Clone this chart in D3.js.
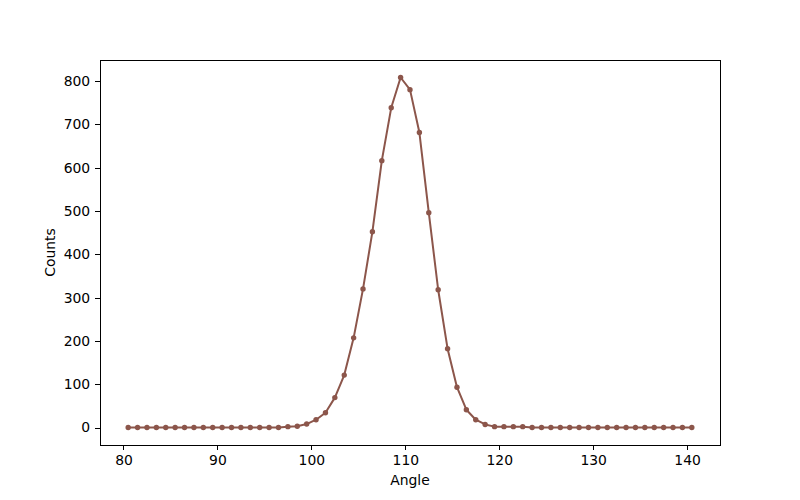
<!DOCTYPE html>
<html>
<head>
<meta charset="utf-8">
<script src="https://d3js.org/d3.v7.min.js"></script>
<style>
  body { margin: 0; background: #fff; }
  text { font-family: "DejaVu Sans", sans-serif; }
</style>
</head>
<body>
<div id="chart"></div>
<script>
// angle bins 80.5 ... 140.5
var angles = [80.5, 81.5, 82.5, 83.5, 84.5, 85.5, 86.5, 87.5, 88.5, 89.5,
              90.5, 91.5, 92.5, 93.5, 94.5, 95.5, 96.5, 97.5, 98.5, 99.5,
              100.5, 101.5, 102.5, 103.5, 104.5, 105.5, 106.5, 107.5, 108.5, 109.5,
              110.5, 111.5, 112.5, 113.5, 114.5, 115.5, 116.5, 117.5, 118.5, 119.5,
              120.5, 121.5, 122.5, 123.5, 124.5, 125.5, 126.5, 127.5, 128.5, 129.5,
              130.5, 131.5, 132.5, 133.5, 134.5, 135.5, 136.5, 137.5, 138.5, 139.5,
              140.5];
var counts = [0, 0, 0, 0, 0, 0, 0, 0, 0, 0,
              0, 0, 0, 0, 0, 0, 0, 2, 3, 8,
              18, 34, 69, 121, 207, 320, 452, 616, 738, 808,
              780, 681, 496, 318, 182, 93, 41, 18, 7, 2,
              2, 2, 2, 0, 0, 0, 0, 0, 0, 0,
              0, 0, 0, 0, 0, 0, 0, 0, 0, 0,
              0];
var xTicks = [80, 90, 100, 110, 120, 130, 140];
var yTicks = [0, 100, 200, 300, 400, 500, 600, 700, 800];

var data = angles.map(function(a, i) { return {angle: a, count: counts[i]}; });

var margin = {top: 60, right: 80, bottom: 55, left: 100},
    width = 800 - margin.left - margin.right,
    height = 500 - margin.top - margin.bottom;

var svg = d3.select("#chart")
    .append("svg")
    .attr("width", 800)
    .attr("height", 500)
    .append("g")
    .attr("transform", "translate(" + margin.left + "," + margin.top + ")");

// matplotlib style 5% margins
var xr = d3.extent(angles), xpad = (xr[1] - xr[0]) * 0.05;
var yr = d3.extent(counts), ypad = (yr[1] - yr[0]) * 0.05;

var x = d3.scaleLinear()
    .domain([xr[0] - xpad, xr[1] + xpad])
    .range([0, width]);
var y = d3.scaleLinear()
    .domain([yr[0] - ypad, yr[1] + ypad])
    .range([height, 0]);

var xAxis = svg.append("g")
    .attr("transform", "translate(0," + height + ")")
    .call(d3.axisBottom(x).tickValues(xTicks).tickSize(4.9).tickPadding(4.9).tickFormat(d3.format("d")));
var yAxis = svg.append("g")
    .call(d3.axisLeft(y).tickValues(yTicks).tickSize(4.9).tickPadding(4.9).tickFormat(d3.format("d")));

[xAxis, yAxis].forEach(function(ax) {
  ax.select(".domain").remove();
  ax.selectAll(".tick line").attr("stroke", "#000").attr("stroke-width", 1)
    .attr("shape-rendering", "crispEdges");
  ax.selectAll(".tick text").attr("fill", "#000").style("font-size", "13.9px")
    .style("font-family", "DejaVu Sans, sans-serif");
});

// frame
svg.append("rect")
    .attr("width", width)
    .attr("height", height)
    .attr("fill", "none")
    .attr("stroke", "#000")
    .attr("stroke-width", 1)
    .attr("shape-rendering", "crispEdges");

var line = d3.line()
    .x(function(d) { return x(d.angle); })
    .y(function(d) { return y(d.count); });

svg.append("path")
    .datum(data)
    .attr("fill", "none")
    .attr("stroke", "#8c564b")
    .attr("stroke-width", 2)
    .attr("stroke-linejoin", "round")
    .attr("d", line);

svg.selectAll(".dot")
    .data(data)
    .enter()
    .append("circle")
    .attr("cx", function(d) { return x(d.angle); })
    .attr("cy", function(d) { return y(d.count); })
    .attr("r", 2.7)
    .attr("fill", "#8c564b");

svg.append("text")
    .attr("x", width / 2)
    .attr("y", height + 40)
    .attr("text-anchor", "middle")
    .style("font-size", "13.9px")
    .text("Angle");

svg.append("text")
    .attr("transform", "translate(-45," + (height / 2) + ")rotate(-90)")
    .attr("text-anchor", "middle")
    .style("font-size", "13.9px")
    .text("Counts");
</script>
</body>
</html>
